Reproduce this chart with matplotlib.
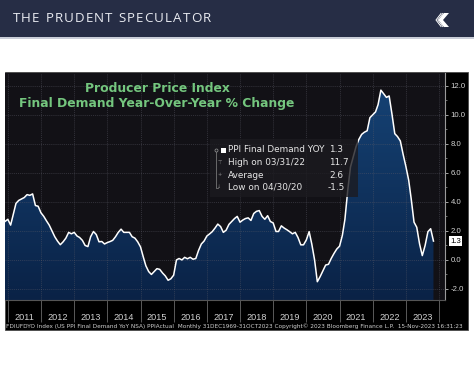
import numpy as np
import pandas as pd
import matplotlib
matplotlib.use('Agg')
import matplotlib.pyplot as plt
import matplotlib.dates as mdates
from matplotlib.colors import LinearSegmentedColormap
from matplotlib.patches import Rectangle, Polygon
from matplotlib.lines import Line2D
from matplotlib.ticker import MultipleLocator, FormatStrFormatter, NullFormatter

W, H = 474, 366


def fx(px):
    return px / W


def fy(py):
    return 1 - py / H


# PPI final demand yoy %, monthly from Nov 2010 to Oct 2023
ppi_2010 = [2.65, 2.8]
ppi_2011 = [2.4, 3.1, 3.9, 4.1, 4.2, 4.3, 4.5, 4.45, 4.55, 3.75, 3.7, 3.25]
ppi_2012 = [3.0, 2.7, 2.4, 2.0, 1.6, 1.3, 1.05, 1.25, 1.5, 1.9, 1.8, 1.9]
ppi_2013 = [1.65, 1.55, 1.35, 1.0, 0.92, 1.6, 1.96, 1.75, 1.25, 1.27, 1.1, 1.2]
ppi_2014 = [1.27, 1.35, 1.6, 1.9, 2.12, 1.9, 1.9, 1.9, 1.6, 1.5, 1.25, 0.9]
ppi_2015 = [0.2, -0.4, -0.8, -1.0, -0.8, -0.6, -0.65, -0.9, -1.1, -1.4, -1.3, -1.05]
ppi_2016 = [0.0, 0.1, 0.0, 0.18, 0.08, 0.18, 0.05, 0.1, 0.65, 1.1, 1.3, 1.65]
ppi_2017 = [1.8, 1.95, 2.2, 2.47, 2.3, 1.9, 2.05, 2.45, 2.65, 2.85, 3.0, 2.6]
ppi_2018 = [2.75, 2.85, 2.9, 2.72, 3.2, 3.35, 3.4, 3.0, 2.8, 3.05, 2.65, 2.55]
ppi_2019 = [1.96, 1.96, 2.35, 2.2, 2.08, 1.95, 1.8, 1.9, 1.55, 1.04, 1.04, 1.38]
ppi_2020 = [1.95, 1.1, 0.0, -1.5, -1.15, -0.75, -0.35, -0.3, 0.1, 0.45, 0.75, 0.95]
ppi_2021 = [1.7, 2.8, 4.8, 6.4, 7.1, 7.8, 8.3, 8.65, 8.8, 8.9, 9.8, 10.0]
ppi_2022 = [10.2, 10.7, 11.7, 11.45, 11.2, 11.3, 10.05, 8.7, 8.5, 8.2, 7.3, 6.45]
ppi_2023 = [5.5, 4.2, 2.6, 2.25, 1.1, 0.3, 1.0, 1.95, 2.15, 1.3]

ppi = np.array(ppi_2010 + ppi_2011 + ppi_2012 + ppi_2013 + ppi_2014 + ppi_2015
               + ppi_2016 + ppi_2017 + ppi_2018 + ppi_2019 + ppi_2020 + ppi_2021
               + ppi_2022 + ppi_2023)
dates = pd.date_range('2010-11-01', periods=len(ppi), freq='MS') + pd.offsets.MonthEnd(0)
xs = mdates.date2num(dates)

legend_labels = ['PPI Final Demand YOY', 'High on 03/31/22', 'Average', 'Low on 04/30/20']
legend_values = ['1.3', '11.7', '2.6', '-1.5']
title_lines = ['Producer Price Index', 'Final Demand Year-Over-Year % Change']
footer = ('FDIUFDYO Index (US PPI Final Demand YoY NSA) PPIActual  Monthly 31DEC1969-31OCT2023 '
          'Copyright\u00a9 2023 Bloomberg Finance L.P.  15-Nov-2023 16:31:23')

ymin, ymax = -2.76, 12.88

fig = plt.figure(figsize=(W / 100, H / 100), dpi=100)
fig.patch.set_facecolor('white')

# header band
fig.add_artist(Rectangle((0, fy(37)), 1, 37 / H, transform=fig.transFigure,
                         fc='#262d45', ec='none', zorder=-2))
fig.add_artist(Rectangle((0, fy(38.5)), 1, 1.5 / H, transform=fig.transFigure,
                         fc='#c9cdd8', ec='none', zorder=-2))

# chart panel
fig.add_artist(Rectangle((fx(5), fy(330)), 463 / W, 258 / H, transform=fig.transFigure,
                         fc='black', ec='#4a4a4a', lw=0.6, zorder=-1))

ax = fig.add_axes([fx(5), fy(300), (445 - 5) / W, (300 - 73) / H])
ax.set_facecolor('#121116')

poly = ax.fill_between(xs, ppi, ymin, facecolor='none', edgecolor='none')
grad = np.linspace(0, 1, 256).reshape(-1, 1)
cmap = LinearSegmentedColormap.from_list('ppi', ['#0a2246', '#164477'])
im = ax.imshow(grad, extent=[xs[0], xs[-1], ymin, ymax], origin='lower',
               aspect='auto', cmap=cmap, zorder=1)
im.set_clip_path(poly.get_paths()[0], transform=ax.transData)
ax.plot(xs, ppi, color='white', lw=1.1, zorder=4)

ax.set_xlim(xs[0], mdates.date2num(pd.Timestamp('2024-03-06')))
ax.set_ylim(ymin, ymax)

ax.yaxis.tick_right()
ax.yaxis.set_major_locator(MultipleLocator(2))
ax.yaxis.set_minor_locator(MultipleLocator(1))
ax.yaxis.set_major_formatter(FormatStrFormatter('%.1f'))
ax.tick_params(axis='y', which='major', direction='out', length=2.5, width=0.6,
               color='#bdbdbd', labelcolor='#d4d4d4', labelsize=5.6, pad=1.5)
ax.tick_params(axis='y', which='minor', direction='out', length=1.5, width=0.5,
               color='#9a9a9a')
for lab in ax.get_yticklabels():
    lab.set_family('Liberation Sans')

ax.xaxis.set_major_locator(mdates.YearLocator())
ax.xaxis.set_major_formatter(NullFormatter())
ax.xaxis.set_minor_locator(mdates.MonthLocator(bymonth=7))
ax.xaxis.set_minor_formatter(mdates.DateFormatter('%Y'))
ax.tick_params(axis='x', which='major', direction='out', length=16, width=0.7,
               color='#5a5a5a')
ax.tick_params(axis='x', which='minor', length=0, pad=9.5, labelsize=6.6,
               labelcolor='#d0d0d0')
for lab in ax.get_xticklabels(minor=True):
    lab.set_family('Liberation Sans')

ax.grid(True, which='major', color='#5c5c68', alpha=0.6, lw=0.5,
        ls=(0, (1.5, 1.5)))
for side in ['top', 'left']:
    ax.spines[side].set_visible(False)
ax.spines['right'].set_color('#9a9a9a')
ax.spines['right'].set_linewidth(0.8)
ax.spines['bottom'].set_color('#555555')
ax.spines['bottom'].set_linewidth(0.8)

# last value tag on the right axis
ax.text(1.012, ppi[-1], '%.1f' % ppi[-1], transform=ax.get_yaxis_transform(),
        ha='left', va='center', fontsize=5.6, family='Liberation Sans', color='black',
        bbox=dict(boxstyle='square,pad=0.18', fc='white', ec='none'), clip_on=False)

# title
green = '#74c67e'
fig.text(fx(157), fy(89), title_lines[0], ha='center', va='center', color=green,
         fontsize=8.9, fontweight='bold')
fig.text(fx(157), fy(104), title_lines[1], ha='center', va='center', color=green,
         fontsize=8.9, fontweight='bold')

# legend box
fig.add_artist(Rectangle((fx(210), fy(197)), 148 / W, 58 / H, transform=fig.transFigure,
                         fc='#1c1b20', ec='none', alpha=0.8, zorder=5))
rows = [150, 162.7, 175, 187]
fig.add_artist(Line2D([fx(216), fx(216), fx(218)], [fy(150), fy(188), fy(188)],
                      transform=fig.transFigure, color='#8a8a8a', lw=0.5, zorder=6))
fig.add_artist(Line2D([fx(216)], [fy(150)], transform=fig.transFigure, marker='o',
                      ms=2.2, mfc='#1c1b20', mec='#9a9a9a', mew=0.5, zorder=6))
fig.add_artist(Rectangle((fx(221), fy(152.5)), 5 / W, 5 / H, transform=fig.transFigure,
                         fc='white', ec='none', zorder=6))
for sym, r in zip(['\u22a4', '+', '\u2193'], rows[1:]):
    fig.text(fx(219.5), fy(r), sym, ha='center', va='center', fontsize=3.6,
             color='#8a8a8a', zorder=6)
for lab, val, r in zip(legend_labels, legend_values, rows):
    fig.text(fx(228), fy(r), lab, ha='left', va='center', fontsize=6.4,
             color='#e6e6e6', zorder=6)
    fig.text(fx(329 if not val.startswith('-') else 327.5), fy(r), val, ha='left',
             va='center', fontsize=6.4, color='#e6e6e6', zorder=6)

# footer
fig.text(fx(5.5), fy(326), footer, ha='left', va='center', fontsize=4.15,
         color='#cfcfcf')

# header title, letter spaced
renderer = fig.canvas.get_renderer()
x = 12.7
for ch in 'THE PRUDENT SPECULATOR':
    if ch == ' ':
        x += 5.0
        continue
    t = fig.text(fx(x), fy(18.5), ch, ha='left', va='center', fontsize=9.6,
                 family='Open Sans', color='#e9ebf1')
    x += t.get_window_extent(renderer).width + 1.1

# logo: striped K shape
fig.add_artist(Polygon([(fx(444), fy(13)), (fx(449), fy(13)), (fx(443), fy(20)),
                        (fx(449), fy(27)), (fx(444), fy(27)), (fx(438.5), fy(20))],
                       closed=True, transform=fig.transFigure, fc='white', ec='none'))
for k in range(3):
    x0 = 436 + k * 1.8
    fig.add_artist(Line2D([fx(x0 + 5), fx(x0), fx(x0 + 5)], [fy(13.5), fy(20), fy(26.5)],
                          transform=fig.transFigure, color='white', lw=0.7))

fig.savefig('out.png', dpi=100, facecolor=fig.get_facecolor())
